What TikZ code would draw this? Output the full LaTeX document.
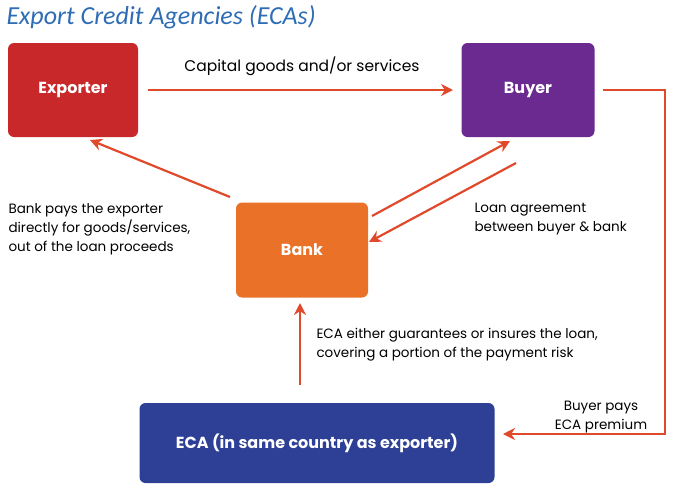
\documentclass[tikz,border=0pt]{standalone}
\usepackage{fontspec}
\setmainfont{Poppins}
\newfontfamily\titlefont{Carlito}
\usetikzlibrary{arrows.meta}
\definecolor{cred}{HTML}{C8282A}
\definecolor{cpurple}{HTML}{6A2A90}
\definecolor{corange}{HTML}{EA7128}
\definecolor{cblue}{HTML}{2E3F96}
\definecolor{carrow}{HTML}{E0492A}
\definecolor{ctitle}{HTML}{2E6DB4}
\begin{document}
\begin{tikzpicture}[x=1pt,y=-1pt,
 box/.style={rounded corners=6pt,text=white,font=\bfseries\fontsize{16}{20}\selectfont},
 arr/.style={draw=carrow,line width=2.2pt,-{Stealth[length=12pt,width=12pt]}},
 lbl/.style={font=\fontsize{13.5}{19}\selectfont,align=left}]
\useasboundingbox (0,0) rectangle (685,499);
\node[font=\titlefont\itshape\fontsize{26}{28}\selectfont,text=ctitle,anchor=west] (title) at (3,17) {Export Credit Agencies (ECAs)};
\node[box,fill=cred,minimum width=130pt,minimum height=94pt] (exp) at (73,90) {Exporter};
\node[box,fill=cpurple,minimum width=133pt,minimum height=94pt] (buy) at (528,90) {Buyer};
\node[box,fill=corange,minimum width=132pt,minimum height=95pt] (bank) at (302,250) {Bank};
\node[box,fill=cblue,minimum width=355pt,minimum height=80pt] (eca) at (317,443) {ECA (in same country as exporter)};
\draw[arr] (148,90) -- (453,90);
\node[lbl,font=\fontsize{15.5}{18}\selectfont] (cap) at (302,66) {Capital goods and/or services};
\draw[arr] (230,197) -- (90,140);
\draw[arr] (372,216) -- (510,141);
\draw[arr] (516,163) -- (369,242);
\draw[arr] (300,385) -- (300,303);
\coordinate (c1) at (665,90);
\coordinate (c2) at (665,434);
\draw[arr] (603,90) -- (c1) -- (c2) -- (503,434);
\node[lbl,anchor=north west] (l1) at (5,200) {Bank pays the exporter\\directly for goods/services,\\out of the loan proceeds};
\node[lbl,anchor=north west] (l2) at (471,200) {Loan agreement\\between buyer \& bank};
\node[lbl,anchor=north west] (l3) at (313,325) {ECA either guarantees or insures the loan,\\covering a portion of the payment risk};
\node[lbl,align=center] (l4) at (601,417) {Buyer pays\\ECA premium};
\end{tikzpicture}
\end{document}
